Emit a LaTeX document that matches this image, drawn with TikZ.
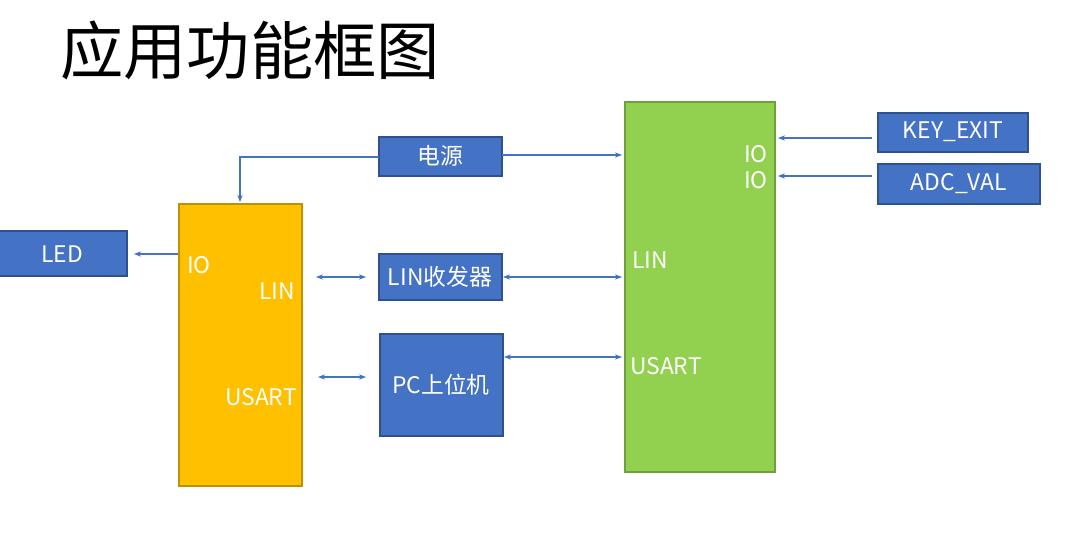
\documentclass[tikz,border=0pt]{standalone}
\usepackage{fontspec}
\setmainfont{Noto Sans CJK SC}
\usetikzlibrary{arrows.meta}
\begin{document}
\begin{tikzpicture}[x=0.02cm,y=-0.02cm,
 bb/.style={draw={rgb,255:red,47;green,82;blue,143},fill={rgb,255:red,68;green,114;blue,196},line width=0.6pt},
 wt/.style={text=white,font=\fontsize{13}{13}\selectfont,inner sep=0pt},
 ar/.style={draw={rgb,255:red,68;green,114;blue,196},line width=0.7pt,-{Stealth[length=4pt,width=3pt]}},
 dar/.style={ar,{Stealth[length=4pt,width=3pt]}-{Stealth[length=4pt,width=3pt]}}]
\useasboundingbox (0,0) rectangle (1080,541);
\node[anchor=west,inner sep=0pt,font=\fontsize{36}{36}\selectfont] (title) at (60,50) {应用功能框图};
\path[draw={rgb,255:red,191;green,144;blue,0},fill={rgb,255:red,255;green,192;blue,0},line width=0.6pt] (179,204) rectangle (302,486);
\path[draw={rgb,255:red,112;green,160;blue,60},fill={rgb,255:red,146;green,208;blue,80},line width=0.6pt] (625,102) rectangle (775,472);
\draw[bb] (-2,231) rectangle (127,276); \node[wt] (led) at (62,254) {LED};
\draw[bb] (379,137) rectangle (502,176); \node[wt] (dy) at (440,156) {电源};
\draw[bb] (379,254) rectangle (502,300); \node[wt] (lin) at (440,277) {LIN收发器};
\draw[bb] (380,334) rectangle (503,436); \node[wt] (pc) at (441,385) {PC上位机};
\draw[bb] (878,113) rectangle (1028,152); \node[wt] (key) at (953,132) {KEY\_EXIT};
\draw[bb] (878,164) rectangle (1040,204); \node[wt] (adc) at (959,184) {ADC\_VAL};
\node[wt] (o1) at (199,265) {IO};
\node[wt] (o2) at (277,291) {LIN};
\node[wt] (o3) at (261,397) {USART};
\node[wt] (g1) at (756,154) {IO};
\node[wt] (g2) at (756,180) {IO};
\node[wt] (g3) at (650,260) {LIN};
\node[wt] (g4) at (666,366) {USART};
\coordinate (a1) at (379,157); \coordinate (a2) at (240,202);
\draw[ar] (a1) -| (a2);
\coordinate (b1) at (502,155); \coordinate (b2) at (622,155);
\draw[ar] (b1) -- (b2);
\coordinate (c1) at (178,254); \coordinate (c2) at (134,254);
\draw[ar] (c1) -- (c2);
\coordinate (d1) at (316,277); \coordinate (d2) at (366,277);
\draw[dar] (d1) -- (d2);
\coordinate (e1) at (503,277); \coordinate (e2) at (622,277);
\draw[dar] (e1) -- (e2);
\coordinate (f1) at (318,377); \coordinate (f2) at (366,377);
\draw[dar] (f1) -- (f2);
\coordinate (h1) at (504,357); \coordinate (h2) at (622,357);
\draw[dar] (h1) -- (h2);
\coordinate (k1) at (872,138); \coordinate (k2) at (778,138);
\draw[ar] (k1) -- (k2);
\coordinate (m1) at (872,176); \coordinate (m2) at (778,176);
\draw[ar] (m1) -- (m2);
\end{tikzpicture}
\end{document}
